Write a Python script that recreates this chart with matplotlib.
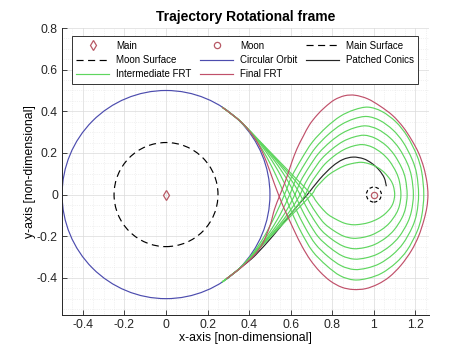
import numpy as np
import matplotlib
matplotlib.use("Agg")
import matplotlib.pyplot as plt
from matplotlib.patches import Circle, PathPatch
from matplotlib.path import Path
from matplotlib.lines import Line2D
from matplotlib.ticker import MultipleLocator

plt.rcParams['font.family'] = ['Liberation Sans', 'DejaVu Sans']

# ---------------- data ----------------
main_pos = (0.0, 0.0)
moon_pos = (1.0, 0.0)
main_surface_r = 0.25
moon_surface_r = 0.036
orbit_r = 0.5

patched_x = [0.29, 0.36, 0.41, 0.45, 0.50, 0.55, 0.59, 0.64, 0.68, 0.74, 0.80, 0.85, 0.90, 0.95, 0.99, 1.025, 1.05, 1.06]
patched_y = [-0.405, -0.35, -0.31, -0.27, -0.215, -0.155, -0.105, -0.045, 0.0, 0.075, 0.135, 0.168, 0.18, 0.172, 0.15, 0.118, 0.08, 0.04]

final_x = [0.27, 0.33, 0.37, 0.405, 0.44, 0.47, 0.497, 0.522, 0.545,
           0.565, 0.59, 0.62, 0.655, 0.695, 0.74, 0.79, 0.845, 0.90, 0.96, 1.02, 1.075, 1.13, 1.18, 1.215, 1.24, 1.255, 1.26,
           1.255, 1.24, 1.215, 1.18, 1.14, 1.09, 1.03, 0.97, 0.91, 0.86, 0.81, 0.765, 0.725, 0.69, 0.66, 0.63, 0.605, 0.585, 0.565, 0.545,
           0.522, 0.50, 0.465, 0.43, 0.39, 0.35, 0.29]
final_y = [0.42, 0.375, 0.34, 0.30, 0.25, 0.19, 0.12, 0.05, -0.01,
           -0.06, -0.115, -0.18, -0.25, -0.315, -0.37, -0.415, -0.445, -0.456, -0.452, -0.43, -0.395, -0.34, -0.27, -0.20, -0.125, -0.06, 0.0,
           0.06, 0.13, 0.20, 0.265, 0.325, 0.38, 0.425, 0.46, 0.477, 0.475, 0.455, 0.42, 0.38, 0.335, 0.28, 0.22, 0.155, 0.095, 0.04, -0.01,
           -0.07, -0.15, -0.235, -0.285, -0.325, -0.36, -0.405]

# intermediate transfers: upper tail, lobe (bottom then top), lower tail
g1_x = [0.27, 0.33, 0.37, 0.422, 0.473, 0.522, 0.57, 0.6035, 0.650, 0.704, 0.771, 0.838, 0.905, 0.972, 1.039, 1.106, 1.160, 1.2065, 1.230, 1.24,
        1.230, 1.2065, 1.160, 1.106, 1.039, 0.972, 0.905, 0.838, 0.771, 0.704, 0.650, 0.6035, 0.57, 0.522, 0.473, 0.422, 0.37, 0.33, 0.27]
g1_y = [0.42, 0.375, 0.34, 0.277, 0.200, 0.107, 0.0, -0.082, -0.180, -0.271, -0.340, -0.390, -0.41, -0.402, -0.377, -0.328, -0.267, -0.180, -0.103, 0.0,
        0.109, 0.189, 0.281, 0.349, 0.399, 0.42, 0.407, 0.376, 0.323, 0.252, 0.168, 0.084, 0.0, -0.107, -0.200, -0.277, -0.34, -0.375, -0.42]

g2_x = [0.27, 0.33, 0.37, 0.437, 0.497, 0.550, 0.595, 0.626, 0.669, 0.719, 0.781, 0.843, 0.905, 0.967, 1.029, 1.091, 1.141, 1.184, 1.206, 1.215,
        1.206, 1.184, 1.141, 1.091, 1.029, 0.967, 0.905, 0.843, 0.781, 0.719, 0.669, 0.626, 0.595, 0.550, 0.497, 0.437, 0.37, 0.33, 0.27]
g2_y = [0.42, 0.375, 0.34, 0.264, 0.182, 0.094, 0.0, -0.072, -0.158, -0.238, -0.299, -0.342, -0.36, -0.353, -0.331, -0.288, -0.234, -0.158, -0.09, 0.0,
        0.0975, 0.169, 0.251, 0.311, 0.356, 0.375, 0.364, 0.336, 0.289, 0.225, 0.15, 0.075, 0.0, -0.094, -0.182, -0.264, -0.34, -0.375, -0.42]

g3_x = [0.27, 0.33, 0.37, 0.453, 0.5225, 0.578, 0.62, 0.6485, 0.688, 0.734, 0.791, 0.848, 0.905, 0.962, 1.019, 1.076, 1.122, 1.1615, 1.181, 1.19,
        1.181, 1.1615, 1.122, 1.076, 1.019, 0.962, 0.905, 0.848, 0.791, 0.734, 0.688, 0.6485, 0.62, 0.578, 0.5225, 0.453, 0.37, 0.33, 0.27]
g3_y = [0.42, 0.375, 0.34, 0.249, 0.1615, 0.079, 0.0, -0.062, -0.136, -0.205, -0.257, -0.2945, -0.31, -0.304, -0.285, -0.248, -0.2015, -0.136, -0.0775, 0.0,
        0.086, 0.1485, 0.221, 0.274, 0.3135, 0.33, 0.320, 0.295, 0.254, 0.198, 0.132, 0.066, 0.0, -0.079, -0.1615, -0.249, -0.34, -0.375, -0.42]

g4_x = [0.27, 0.33, 0.37, 0.470, 0.549, 0.607, 0.645, 0.671, 0.707, 0.748, 0.7995, 0.851, 0.9025, 0.954, 1.0055, 1.057, 1.098, 1.134, 1.152, 1.16,
        1.152, 1.134, 1.098, 1.057, 1.0055, 0.954, 0.9025, 0.851, 0.7995, 0.748, 0.707, 0.671, 0.645, 0.607, 0.549, 0.470, 0.37, 0.33, 0.27]
g4_y = [0.42, 0.375, 0.34, 0.233, 0.1405, 0.063, 0.0, -0.052, -0.114, -0.172, -0.216, -0.247, -0.26, -0.255, -0.239, -0.208, -0.169, -0.114, -0.065, 0.0,
        0.074, 0.128, 0.191, 0.237, 0.271, 0.285, 0.276, 0.255, 0.219, 0.171, 0.114, 0.057, 0.0, -0.063, -0.1405, -0.233, -0.34, -0.375, -0.42]

g5_x = [0.27, 0.33, 0.37, 0.488, 0.577, 0.638, 0.67, 0.693, 0.725, 0.762, 0.808, 0.854, 0.90, 0.946, 0.992, 1.038, 1.075, 1.107, 1.123, 1.13,
        1.123, 1.107, 1.075, 1.038, 0.992, 0.946, 0.90, 0.854, 0.808, 0.762, 0.725, 0.693, 0.67, 0.638, 0.577, 0.488, 0.37, 0.33, 0.27]
g5_y = [0.42, 0.375, 0.34, 0.215, 0.1175, 0.046, 0.0, -0.042, -0.092, -0.139, -0.174, -0.1995, -0.21, -0.206, -0.193, -0.168, -0.1365, -0.092, -0.0525, 0.0,
        0.062, 0.108, 0.161, 0.199, 0.228, 0.24, 0.233, 0.215, 0.185, 0.144, 0.096, 0.048, 0.0, -0.046, -0.1175, -0.215, -0.34, -0.375, -0.42]

g6_x = [0.27, 0.33, 0.37, 0.4525, 0.535, 0.6175, 0.70, 0.72, 0.748, 0.78, 0.82, 0.86, 0.90, 0.94, 0.98, 1.02, 1.052, 1.08, 1.094, 1.10,
        1.094, 1.08, 1.052, 1.02, 0.98, 0.94, 0.90, 0.86, 0.82, 0.78, 0.748, 0.72, 0.70, 0.6175, 0.535, 0.4525, 0.37, 0.33, 0.27]
g6_y = [0.42, 0.375, 0.34, 0.255, 0.17, 0.085, 0.0, -0.029, -0.064, -0.096, -0.120, -0.138, -0.145, -0.142, -0.133, -0.116, -0.094, -0.064, -0.036, 0.0,
        0.040, 0.070, 0.104, 0.129, 0.147, 0.155, 0.150, 0.139, 0.119, 0.093, 0.062, 0.031, 0.0, -0.085, -0.17, -0.255, -0.34, -0.375, -0.42]

intermediate = [(g1_x, g1_y), (g2_x, g2_y), (g3_x, g3_y), (g4_x, g4_y), (g5_x, g5_y), (g6_x, g6_y)]

x_ticks = [-0.4, -0.2, 0, 0.2, 0.4, 0.6, 0.8, 1, 1.2]
y_ticks = [-0.4, -0.2, 0, 0.2, 0.4, 0.6, 0.8]
x_ticklabels = ['-0.4', '-0.2', '0', '0.2', '0.4', '0.6', '0.8', '1', '1.2']
y_ticklabels = ['-0.4', '-0.2', '0', '0.2', '0.4', '0.6', '0.8']


def smooth_path(xs, ys):
    """Bezier path passing through every read point (drawn by matplotlib's Path)."""
    p = np.column_stack([xs, ys]).astype(float)
    n = len(p)
    verts = [p[0]]
    codes = [Path.MOVETO]
    for i in range(n - 1):
        p0 = p[i - 1] if i > 0 else p[i]
        p1, p2 = p[i], p[i + 1]
        p3 = p[i + 2] if i + 2 < n else p[i + 1]
        verts += [p1 + (p2 - p0) / 6.0, p2 - (p3 - p1) / 6.0, p2]
        codes += [Path.CURVE4] * 3
    return Path(verts, codes)


# ---------------- style ----------------
c_marker = '#b85a66'
c_red = '#c0506a'
c_green = '#5fd65f'
c_blue = '#4c4cae'
c_black = '#262626'

fig = plt.figure(figsize=(4.74, 3.55), dpi=100)
ax = fig.add_axes([0.131, 0.113, 0.774, 0.808])

ax.set_xlim(-0.5, 1.265)
ax.set_ylim(-0.578, 0.8)

lw = 0.85
dash = (6.0, 3.8)

h_main, = ax.plot([main_pos[0]], [main_pos[1]], 'd', mfc='none', mec=c_marker, ms=5, mew=0.9)
h_moon, = ax.plot([moon_pos[0]], [moon_pos[1]], 'o', mfc='none', mec=c_marker, ms=4.5, mew=0.9)

ax.add_patch(Circle(main_pos, main_surface_r, fill=False, ec='black', lw=lw, ls=(0, dash)))
ax.add_patch(Circle(moon_pos, moon_surface_r, fill=False, ec='black', lw=lw, ls=(0, (3.0, 2.2))))
ax.add_patch(Circle(main_pos, orbit_r, fill=False, ec=c_blue, lw=lw))

ax.add_patch(PathPatch(smooth_path(patched_x, patched_y), fill=False, ec=c_black, lw=lw))
for gx, gy in intermediate:
    ax.add_patch(PathPatch(smooth_path(gx, gy), fill=False, ec=c_green, lw=lw))
ax.add_patch(PathPatch(smooth_path(final_x, final_y), fill=False, ec=c_red, lw=lw))

h_ms = Line2D([], [], color='black', lw=lw, ls=(0, dash))
h_mos = Line2D([], [], color='black', lw=lw, ls=(0, dash))
h_co = Line2D([], [], color=c_blue, lw=lw)
h_int = Line2D([], [], color=c_green, lw=lw)
h_pc = Line2D([], [], color=c_black, lw=lw)
h_fin = Line2D([], [], color=c_red, lw=lw)

# matplotlib fills legend column-wise: reorder to MATLAB's row-wise layout
handles = [h_main, h_mos, h_int, h_moon, h_co, h_fin, h_ms, h_pc]
labels = ['Main', 'Moon Surface', 'Intermediate FRT', 'Moon', 'Circular Orbit', 'Final FRT', 'Main Surface', 'Patched Conics']
leg = ax.legend(handles, labels, ncol=3, loc='upper center', bbox_to_anchor=(0.4986, 0.988),
                fontsize=7, handlelength=3.4, handletextpad=0.7, columnspacing=0.9,
                labelspacing=0.45, borderpad=0.45, fancybox=False, framealpha=1, edgecolor='#333333')
leg.get_frame().set_linewidth(0.7)

ax.set_xticks(x_ticks)
ax.set_yticks(y_ticks)
ax.set_xticklabels(x_ticklabels)
ax.set_yticklabels(y_ticklabels)
ax.xaxis.set_minor_locator(MultipleLocator(0.05))
ax.yaxis.set_minor_locator(MultipleLocator(0.05))
ax.grid(True, which='major', color='#dadada', lw=0.5)
ax.grid(True, which='minor', color='#e6e6e6', lw=0.5, ls=':')
ax.set_axisbelow(True)
ax.tick_params(which='major', direction='in', length=3.5, width=0.6, labelsize=8.8, colors='#262626', pad=3)
ax.tick_params(which='minor', length=0)
for s in ['top', 'right']:
    ax.spines[s].set_visible(False)
for s in ['left', 'bottom']:
    ax.spines[s].set_color('#262626')
    ax.spines[s].set_linewidth(0.7)

ax.set_title('Trajectory Rotational frame', fontsize=10, fontweight='bold', pad=5)
ax.set_xlabel('x-axis [non-dimensional]', fontsize=8.8, labelpad=1)
ax.set_ylabel('y-axis [non-dimensional]', fontsize=8.8, labelpad=1)

fig.savefig('out.png', dpi=100)
